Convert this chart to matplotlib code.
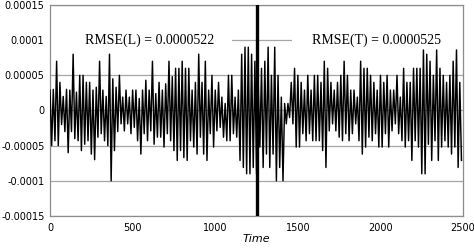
import numpy as np
import matplotlib
matplotlib.use("Agg")
import matplotlib.pyplot as plt
from matplotlib.patches import Rectangle

# peak / trough amplitudes, in units of 1e-5, left to right
peaks = [2.9, 3, 7, 4, 2, 3, 2.9, 8, 2.6, 5, 5, 4, 4, 2.9, 3.3, 7, 2.9, 2, 8, 4.5, 3.3,
         5, 1.9, 2.9, 1.9, 2.9, 2.9, 1.7, 2.9, 4.3, 2.9, 7, 2.4, 4, 2.9, 3.8, 7, 4.8, 6, 6, 7, 6,
         6, 2.9, 4, 8, 4, 7, 2.9, 5, 2.9, 4, 1.9, 1, 5, 5, 1.9, 2.9, 8, 9, 9, 8,
         7, 4, 6, 7, 9, 5, 9, 5, 1.9, 1, 1, 4, 6, 5, 4, 2.9, 5, 2.9, 5, 5,
         4, 7, 6, 4, 2.9, 4, 5, 7, 5, 2.9, 2.9, 1.9, 7, 6, 6, 5, 4, 2.9, 5, 4, 5,
         2.9, 2.9, 5, 1.9, 6, 4, 4, 6, 6, 6, 8.6, 8, 7, 5, 8.6, 6, 5, 4, 5, 7, 8.6, 4]
troughs = [-5, -4.3, -5, -2, -3, -6, -3, -4, -4.3, -5.7, -4.8, -4.3, -6.2, -7, -3.8, -3.3, -4.3, -5, -10, -5.7, -3,
           -1.9, -2.9, -1.9, -3.3, -2.4, -4.3, -6.2, -3.3, -4.3, -2.9, -4.8, -3.8, -3.8, -5.2, -3.3, -4.3, -5.7, -7.1, -5.7, -6.7, -7.1,
           -4.3, -5.2, -6.2, -3.8, -6.2, -7.1, -3.3, -5.2, -2.9, -2.4, -3.8, -4.3, -4.3, -3.3, -3.8, -7.1, -8.1, -9, -9, -8.1,
           -9, -5.2, -8.1, -6.2, -8.1, -6.2, -10, -8.1, -10, -1.9, -1, -1.9, -5.2, -5.2, -3.3, -4.3, -3.3, -4.3, -4.3, -4.3,
           -5.7, -8.1, -2.9, -1.9, -2.9, -3.8, -4.3, -3.3, -4.3, -3.3, -1.9, -4.3, -6.2, -5.2, -3.8, -4.3, -3.3, -5.2, -5.2, -3.3, -5.2,
           -2.9, -1.9, -3.3, -4.3, -5.2, -4.3, -7.1, -4.3, -5.2, -9, -9, -4.8, -7.1, -4.3, -7.1, -5.2, -4.3, -5.2, -6.2, -5.2, -8.1, -7.1]

yticks = [-0.00015, -0.0001, -0.00005, 0, 0.00005, 0.0001, 0.00015]
ytick_labels = ["-0.00015", "-0.0001", "-0.00005", "0", "0.00005", "0.0001", "0.00015"]
xticks = [0, 500, 1000, 1500, 2000, 2500]
split_time = 1250
rmse_l = "RMSE(L) = 0.0000522"
rmse_t = "RMSE(T) = 0.0000525"

# interleave peaks and troughs into one zigzag signal
values = np.empty(len(peaks) + len(troughs))
values[0::2] = peaks
values[1::2] = troughs
values = values * 1e-5
time = np.arange(len(values)) * 10

fig = plt.figure(figsize=(4.74, 2.48), dpi=100)
ax = fig.add_axes([0.1055, 0.129, 0.8715, 0.851])

ax.set_xlim(0, 2500)
ax.set_ylim(-0.00015, 0.00015)
for y in yticks:
    ax.axhline(y, color="#a6a6a6", lw=0.9, zorder=1)

ax.plot(time, values, color="black", lw=1.05, zorder=3)
ax.axvline(split_time, color="black", lw=2.4, zorder=4)

# white label boxes hide the 0.0001 gridline except in the middle
ax.add_patch(Rectangle((0, 0.000092), 1100, 0.000016, facecolor="white", edgecolor="none", zorder=2))
ax.add_patch(Rectangle((1465, 0.000092), 1035, 0.000016, facecolor="white", edgecolor="none", zorder=2))
ax.text(600, 0.0001, rmse_l, family="Liberation Serif", fontsize=10, ha="center", va="center", zorder=5)
ax.text(1975, 0.0001, rmse_t, family="Liberation Serif", fontsize=10, ha="center", va="center", zorder=5)

ax.set_yticks(yticks)
ax.set_yticklabels(ytick_labels)
ax.set_xticks(xticks)
ax.tick_params(length=0, labelsize=7, pad=5)
ax.tick_params(axis="y", pad=4)
ax.set_xlabel("Time", fontsize=8, style="italic", labelpad=1)
for s in ax.spines.values():
    s.set_color("#8c8c8c")
    s.set_linewidth(0.9)

fig.savefig("out.png", dpi=100)
